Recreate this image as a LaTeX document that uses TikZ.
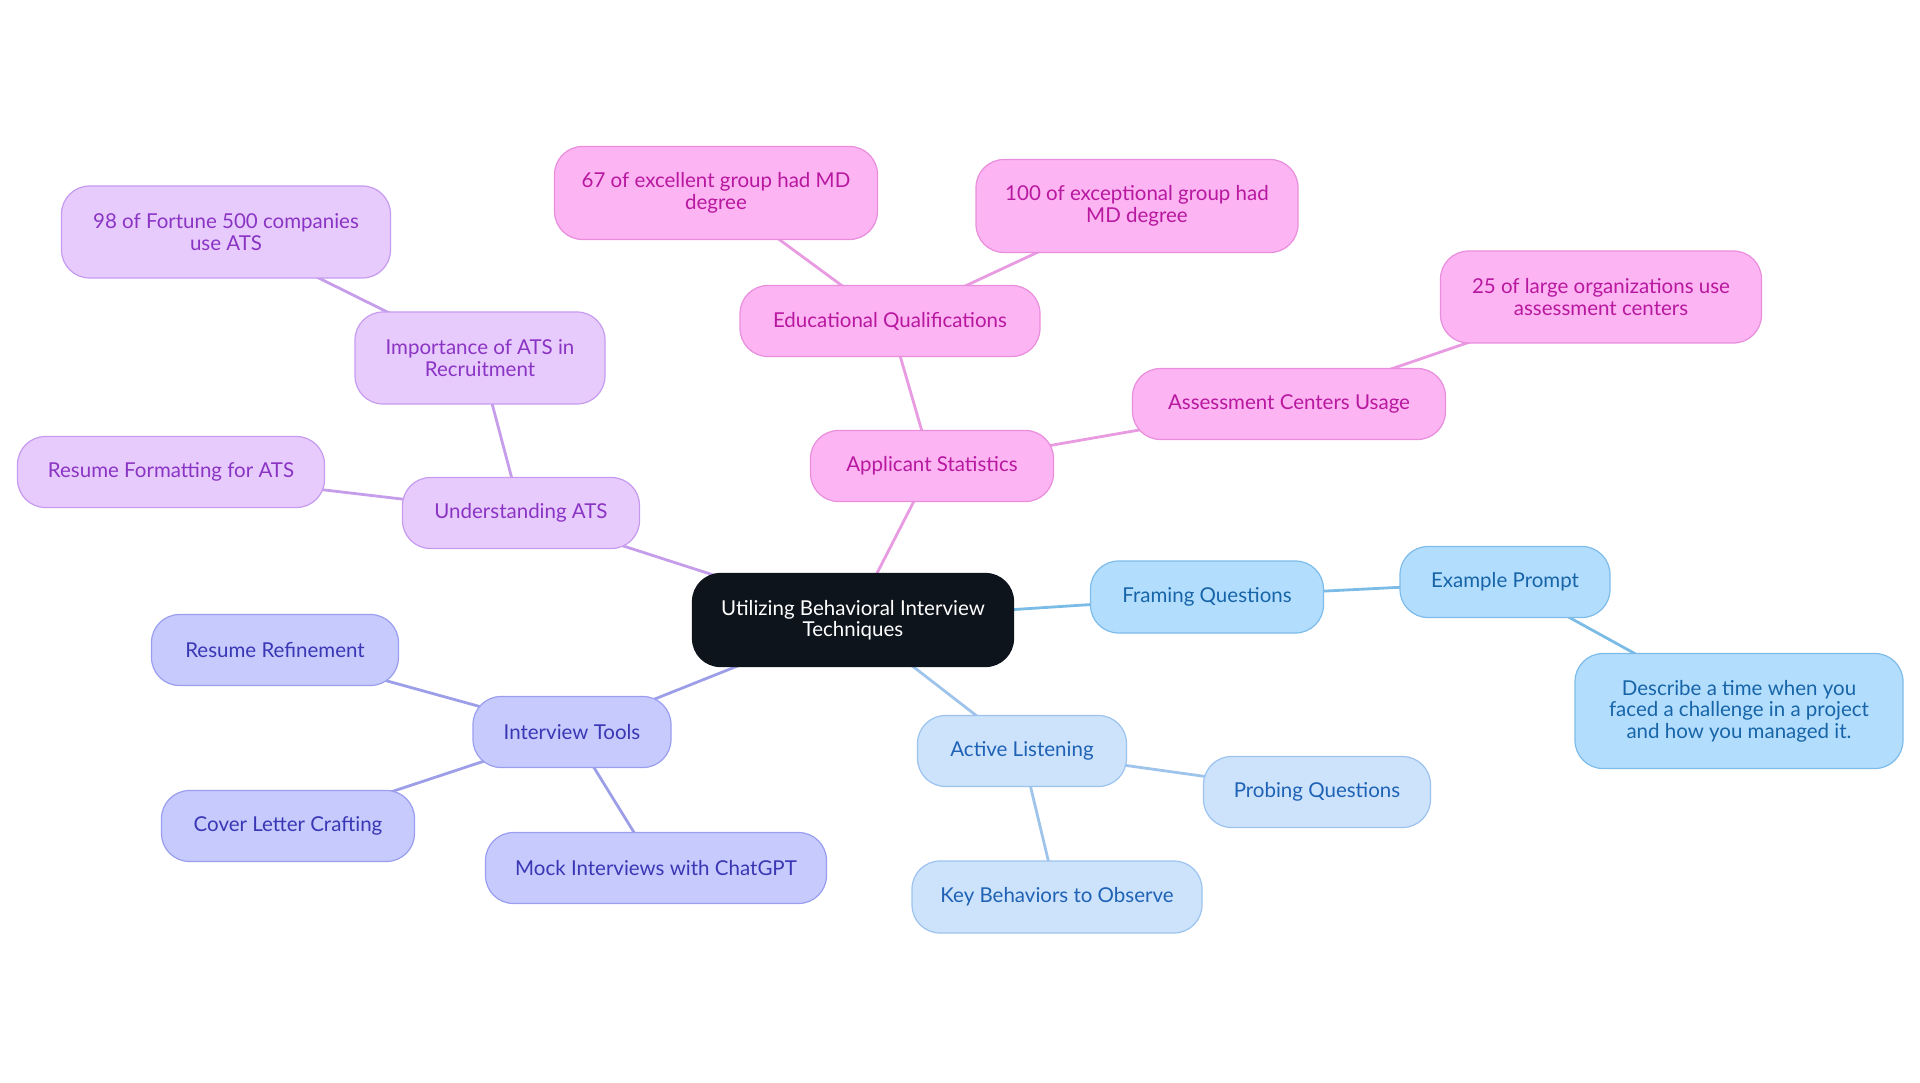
\documentclass[tikz,border=0pt]{standalone}
\usepackage{fontspec}
\setmainfont{Lato}
\pgfdeclarelayer{bg}
\pgfsetlayers{bg,main}
\definecolor{cenF}{HTML}{0E141B}
\definecolor{pinkF}{HTML}{FCB4F2}
\definecolor{pinkD}{HTML}{E88EDD}
\definecolor{pinkT}{HTML}{B8189F}
\definecolor{pinkE}{HTML}{E99BE1}
\definecolor{lavF}{HTML}{E8CBFD}
\definecolor{lavD}{HTML}{C69BEF}
\definecolor{lavT}{HTML}{8A34C4}
\definecolor{lavE}{HTML}{C69DEA}
\definecolor{perF}{HTML}{C7CAFD}
\definecolor{perD}{HTML}{9A9EEF}
\definecolor{perT}{HTML}{3937B4}
\definecolor{perE}{HTML}{9C9FE8}
\definecolor{lbF}{HTML}{CCE3FB}
\definecolor{lbD}{HTML}{9CC3EE}
\definecolor{lbT}{HTML}{1F62B5}
\definecolor{lbE}{HTML}{9EC4EC}
\definecolor{skyF}{HTML}{B3DDFC}
\definecolor{skyD}{HTML}{7DBCEA}
\definecolor{skyT}{HTML}{1765A8}
\definecolor{skyE}{HTML}{7BBCE6}
\tikzset{
  box/.style={rectangle, rounded corners=28pt, line width=1.2pt, align=center,
    font=\fontsize{20.5}{21.5}\selectfont, inner sep=0pt},
  cen/.style={box, fill=cenF, draw=cenF, text=white},
  pinkbox/.style={box, fill=pinkF, draw=pinkD, text=pinkT},
  lavbox/.style={box, fill=lavF, draw=lavD, text=lavT},
  perbox/.style={box, fill=perF, draw=perD, text=perT},
  lbbox/.style={box, fill=lbF, draw=lbD, text=lbT},
  skybox/.style={box, fill=skyF, draw=skyD, text=skyT},
  edge/.style={line width=2.8pt},
  sz/.style 2 args={minimum width=#1pt, minimum height=#2pt}
}
\begin{document}
\begin{tikzpicture}[x=1pt,y=-1pt]
\useasboundingbox (0,0) rectangle (1920,1083);
% nodes
\node[cen, sz={321}{93}] (c) at (853,620) {Utilizing Behavioral Interview\\Techniques};
% pink
\node[pinkbox, sz={243}{71}] (as) at (932,466) {Applicant Statistics};
\node[pinkbox, sz={300}{71}] (eq) at (890,321) {Educational Qualifications};
\node[pinkbox, sz={323}{93}] (p67) at (716,193) {67 of excellent group had MD\\degree};
\node[pinkbox, sz={322}{93}] (p100) at (1137,206) {100 of exceptional group had\\MD degree};
\node[pinkbox, sz={313}{71}] (acu) at (1289,404) {Assessment Centers Usage};
\node[pinkbox, sz={321}{92}] (p25) at (1601,297) {25 of large organizations use\\assessment centers};
% lavender
\node[lavbox, sz={237}{71}] (ua) at (521,513) {Understanding ATS};
\node[lavbox, sz={307}{71}] (rf) at (171,472) {Resume Formatting for ATS};
\node[lavbox, sz={250}{92}] (ia) at (480,358) {Importance of ATS in\\Recruitment};
\node[lavbox, sz={329}{92}] (p98) at (226,232) {98 of Fortune 500 companies\\use ATS};
% periwinkle
\node[perbox, sz={198}{71}] (it) at (572,732) {Interview Tools};
\node[perbox, sz={247}{71}] (rr) at (275,650) {Resume Refinement};
\node[perbox, sz={253}{71}] (cl) at (288,826) {Cover Letter Crafting};
\node[perbox, sz={341}{71}] (mi) at (656,868) {Mock Interviews with ChatGPT};
% light blue
\node[lbbox, sz={209}{71}] (al) at (1022,751) {Active Listening};
\node[lbbox, sz={227}{71}] (pq) at (1317,792) {Probing Questions};
\node[lbbox, sz={290}{72}] (kb) at (1057,897) {Key Behaviors to Observe};
% sky
\node[skybox, sz={233}{72}] (fq) at (1207,597) {Framing Questions};
\node[skybox, sz={210}{71}] (ep) at (1505,582) {Example Prompt};
\node[skybox, sz={328}{115}] (dt) at (1739,711) {Describe a time when you\\faced a challenge in a project\\and how you managed it.};
% edges
\begin{pgfonlayer}{bg}
\draw[edge, pinkE] (c.center) -- (as.center);
\draw[edge, pinkE] (as.center) -- (eq.center);
\draw[edge, pinkE] (eq.center) -- (p67.center);
\draw[edge, pinkE] (eq.center) -- (p100.center);
\draw[edge, pinkE] (as.center) -- (acu.center);
\draw[edge, pinkE] (acu.center) -- (p25.center);
\draw[edge, lavE] (c.center) -- (ua.center);
\draw[edge, lavE] (ua.center) -- (rf.center);
\draw[edge, lavE] (ua.center) -- (ia.center);
\draw[edge, lavE] (ia.center) -- (p98.center);
\draw[edge, perE] (c.center) -- (it.center);
\draw[edge, perE] (it.center) -- (rr.center);
\draw[edge, perE] (it.center) -- (cl.center);
\draw[edge, perE] (it.center) -- (mi.center);
\draw[edge, lbE] (c.center) -- (al.center);
\draw[edge, lbE] (al.center) -- (pq.center);
\draw[edge, lbE] (al.center) -- (kb.center);
\draw[edge, skyE] (c.center) -- (fq.center);
\draw[edge, skyE] (fq.center) -- (ep.center);
\draw[edge, skyE] (ep.center) -- (dt.center);
\end{pgfonlayer}
\end{tikzpicture}
\end{document}
